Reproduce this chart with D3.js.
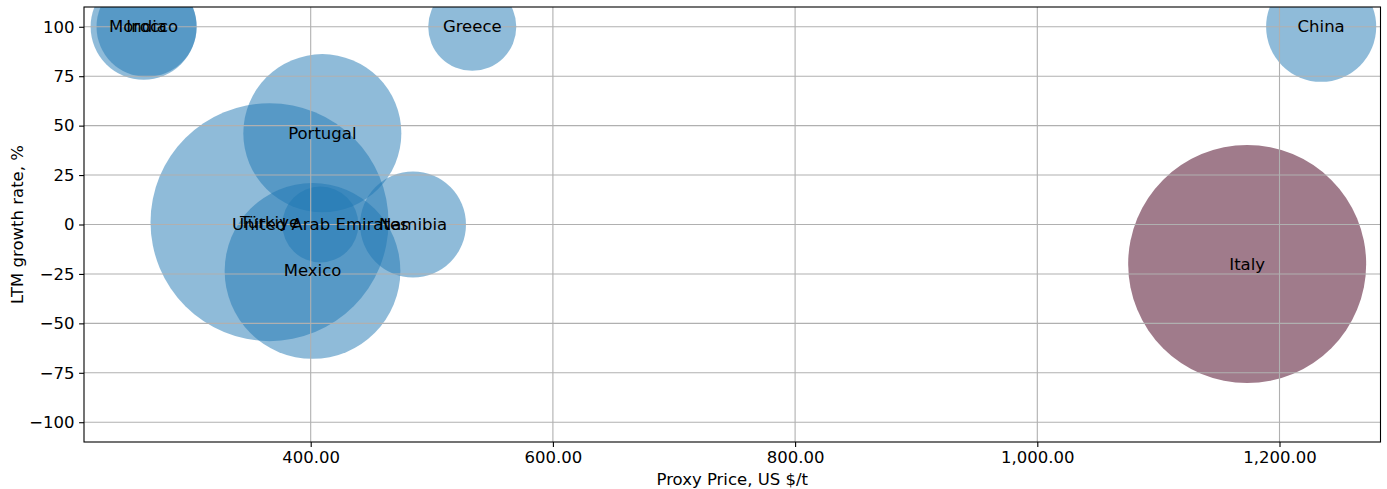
<!DOCTYPE html>
<html>
<head>
<meta charset="utf-8">
<script src="https://cdn.jsdelivr.net/npm/d3@7"></script>
<style>
  html, body { margin: 0; padding: 0; background: #fff; }
  svg { display: block; }
  text { font-family: "DejaVu Sans", sans-serif; fill: #000; }
</style>
</head>
<body>
<svg id="chart" width="1387" height="489"></svg>
<script>
// ---- data ----
const countries   = ["Morocco", "India", "Greece", "China", "Portugal", "Türkiye", "United Arab Emirates", "Namibia", "Mexico", "Italy"];
const proxyPrice  = [262, 264.5, 533.4, 1234.4, 409.6, 366, 408, 484.5, 401.5, 1173.3];
const growthRate  = [100, 100, 100, 100, 46.2, 1.2, 0, 0, -23.5, -20];
const bubbleSize  = [19.8, 17.7, 13.7, 21.4, 44.1, 100, 10.2, 19.8, 54.5, 100];
const highlighted = ["Italy"];
const xTicks = [400, 600, 800, 1000, 1200];
const yTicks = [-100, -75, -50, -25, 0, 25, 50, 75, 100];
const xTitle = "Proxy Price, US $/t";
const yTitle = "LTM growth rate, %";

// ---- layout ----
const W = 1387, H = 489;
const FS = 16.5;
const margin = {left: 84, top: 7, right: 6.5, bottom: 47};
const iw = W - margin.left - margin.right;
const ih = H - margin.top - margin.bottom;

const svg = d3.select("#chart");
const g = svg.append("g").attr("transform", `translate(${margin.left},${margin.top})`);

const x = d3.scaleLinear().domain([212.8, 1283.4]).range([0, iw]);
const y = d3.scaleLinear().domain([-110, 110]).range([ih, 0]);
const r = d3.scaleSqrt().domain([0, 100]).range([0, 119]);

svg.append("defs").append("clipPath").attr("id", "plotclip")
  .append("rect").attr("x", 0).attr("y", 0).attr("width", iw).attr("height", ih);

const data = countries.map((c, i) => ({name: c, px: proxyPrice[i], gr: growthRate[i], s: bubbleSize[i]}));

// bubbles
const bubbles = g.append("g").attr("clip-path", "url(#plotclip)");
bubbles.selectAll("circle").data(data).join("circle")
  .attr("cx", d => x(d.px))
  .attr("cy", d => y(d.gr))
  .attr("r", d => r(d.s))
  .attr("fill", d => highlighted.includes(d.name) ? "#a07b8b" : "rgba(31,119,180,0.5)");

// grid (drawn over bubbles)
const grid = g.append("g");
grid.selectAll("line.gx").data(xTicks).join("line")
  .attr("x1", d => x(d)).attr("x2", d => x(d)).attr("y1", 0).attr("y2", ih)
  .attr("stroke", "#b0b0b0").attr("stroke-width", 1.1);
grid.selectAll("line.gy").data(yTicks).join("line")
  .attr("y1", d => y(d)).attr("y2", d => y(d)).attr("x1", 0).attr("x2", iw)
  .attr("stroke", "#b0b0b0").attr("stroke-width", 1.1);

// labels
g.append("g").selectAll("text").data(data).join("text")
  .attr("x", d => x(d.px))
  .attr("y", d => y(d.gr))
  .attr("text-anchor", "middle")
  .attr("dominant-baseline", "central")
  .attr("font-size", FS)
  .text(d => d.name);

// axes
const xAxis = d3.axisBottom(x).tickValues(xTicks).tickFormat(d3.format(",.2f")).tickSize(4.9).tickPadding(4.5);
const yAxis = d3.axisLeft(y).tickValues(yTicks).tickFormat(d3.format("d")).tickSize(4.9).tickPadding(4.5);

const gx = g.append("g").attr("transform", `translate(0,${ih})`).call(xAxis);
const gy = g.append("g").call(yAxis);
[gx, gy].forEach(a => {
  a.select(".domain").remove();
  a.selectAll(".tick line").attr("stroke", "#000").attr("stroke-width", 1.1);
  a.selectAll(".tick text").attr("font-size", FS).attr("font-family", "DejaVu Sans, sans-serif").attr("fill", "#000");
});

// frame (spines)
g.append("rect").attr("x", 0).attr("y", 0).attr("width", iw).attr("height", ih)
  .attr("fill", "none").attr("stroke", "#000").attr("stroke-width", 1.1);

// titles
svg.append("text").attr("x", margin.left + iw / 2).attr("y", 479)
  .attr("text-anchor", "middle").attr("dominant-baseline", "central").attr("font-size", FS)
  .text(xTitle);
svg.append("text").attr("transform", `translate(17,${margin.top + ih / 2}) rotate(-90)`)
  .attr("text-anchor", "middle").attr("dominant-baseline", "central").attr("font-size", FS)
  .text(yTitle);
</script>
</body>
</html>
